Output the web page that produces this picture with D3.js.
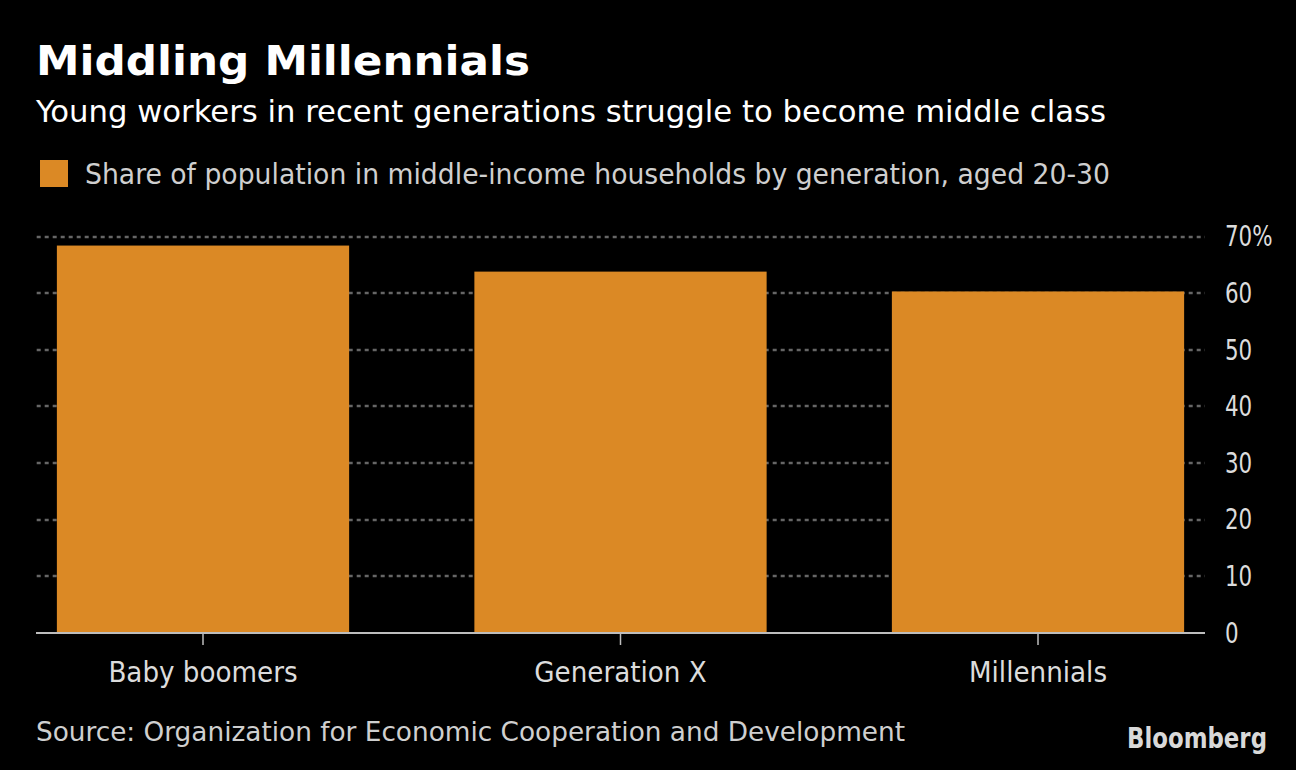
<!DOCTYPE html>
<html><head><meta charset="utf-8">
<script src="https://cdn.jsdelivr.net/npm/d3@7"></script>
<style>
html,body{margin:0;padding:0;background:#000;}
svg{display:block;}
text{font-family:"DejaVu Sans Condensed","DejaVu Sans",sans-serif;font-stretch:condensed;}
</style></head>
<body>
<script>
const categories = ["Baby boomers", "Generation X", "Millennials"];
const values = [68.4, 63.8, 60.3];
const yTicks = [0, 10, 20, 30, 40, 50, 60, 70];
const yTickLabels = ["0", "10", "20", "30", "40", "50", "60", "70%"];
const title = "Middling Millennials";
const subtitle = "Young workers in recent generations struggle to become middle class";
const legendLabel = "Share of population in middle-income households by generation, aged 20-30";
const source = "Source: Organization for Economic Cooperation and Development";

(function () {
const W = 1296, H = 770;
const svg = d3.select("body").append("svg").attr("width", W).attr("height", H);
svg.append("rect").attr("width", W).attr("height", H).attr("fill", "#000");

const pl = 36, pr = 1205, pt = 236.5, pb = 633;
const x = d3.scaleBand().domain(categories).range([pl, pr]).paddingInner(0.30).paddingOuter(0.05);
const y = d3.scaleLinear().domain([0, 70]).range([pb, pt]);
const fam = "\"DejaVu Sans Condensed\",\"DejaVu Sans\",sans-serif";

// gridlines
svg.append("g").selectAll("line").data(yTicks.filter(d => d > 0)).join("line")
  .attr("x1", pl + 0.7).attr("x2", pr)
  .attr("y1", d => Math.round(y(d))).attr("y2", d => Math.round(y(d)))
  .attr("stroke", "#666").attr("stroke-width", 2.5).attr("stroke-dasharray", "4,4");

// bars
svg.append("g").selectAll("rect").data(values).join("rect")
  .attr("x", (d, i) => x(categories[i]))
  .attr("width", x.bandwidth())
  .attr("y", d => y(d))
  .attr("height", d => y(0) - y(d))
  .attr("fill", "#DB8925");

// x axis
const xAxis = d3.axisBottom(x).tickSize(12).tickPadding(17);
const gx = svg.append("g").attr("transform", `translate(0,${pb})`).call(xAxis);
gx.select(".domain").attr("stroke", "#bdbdbd").attr("stroke-width", 2).attr("d", `M${pl},0H${pr}`);
gx.selectAll(".tick line").attr("stroke", "#bdbdbd").attr("stroke-width", 1.5);
gx.selectAll(".tick text").attr("fill", "#dcdcdc").attr("font-size", 28).attr("font-family", fam)
  .each(function () { const t = d3.select(this); t.attr("textLength", this.getComputedTextLength() * 1.04).attr("lengthAdjust", "spacingAndGlyphs"); });

// y axis
const yAxis = d3.axisRight(y).tickValues(yTicks).tickSize(0).tickPadding(20)
  .tickFormat((d, i) => yTickLabels[i]);
const gy = svg.append("g").attr("transform", `translate(${pr},0)`).call(yAxis);
gy.select(".domain").remove();
gy.selectAll(".tick text").attr("fill", "#dcdcdc").attr("font-size", 29).attr("font-family", fam)
  .each(function () { const t = d3.select(this); t.attr("textLength", this.getComputedTextLength() * 0.82).attr("lengthAdjust", "spacingAndGlyphs"); });

// titles
svg.append("text").attr("x", 36).attr("y", 75).attr("fill", "#fff")
  .attr("font-size", 40).attr("font-weight", "bold").attr("textLength", 494).attr("lengthAdjust", "spacingAndGlyphs").text(title);
svg.append("text").attr("x", 36).attr("y", 122).attr("fill", "#fff")
  .attr("font-size", 31).attr("textLength", 1070).attr("lengthAdjust", "spacingAndGlyphs").text(subtitle);

// legend
svg.append("rect").attr("x", 40).attr("y", 160).attr("width", 28).attr("height", 27).attr("fill", "#DB8925");
svg.append("text").attr("x", 85).attr("y", 184).attr("fill", "#cfcfcf")
  .attr("font-size", 28).attr("textLength", 1025).attr("lengthAdjust", "spacingAndGlyphs").text(legendLabel);

// source
svg.append("text").attr("x", 36).attr("y", 741).attr("fill", "#cfcfcf")
  .attr("font-size", 27).attr("textLength", 869).attr("lengthAdjust", "spacingAndGlyphs").text(source);

// logo
svg.append("text").attr("x", 1127).attr("y", 748).attr("fill", "#d9d9d9")
  .attr("font-family", "\"Liberation Sans\",sans-serif")
  .attr("font-size", 28).attr("font-weight", "bold").attr("textLength", 140).attr("lengthAdjust", "spacingAndGlyphs").text("Bloomberg");
})();
</script>
</body></html>
